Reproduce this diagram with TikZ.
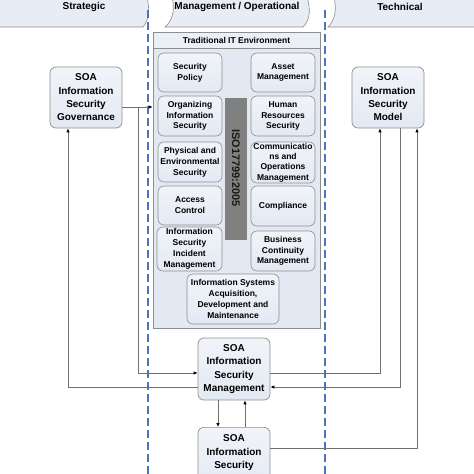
\documentclass[tikz,border=0pt]{standalone}
\usepackage{fontspec}
\setmainfont{Liberation Sans}
\usetikzlibrary{arrows.meta}
\definecolor{boxfill}{HTML}{E3E9F3}
\definecolor{boxtop}{HTML}{F1F4F9}
\definecolor{boxline}{HTML}{8E8E8E}
\definecolor{conn}{HTML}{707070}
\definecolor{lane}{HTML}{4F72BC}
\definecolor{isogrey}{HTML}{808080}
\tikzset{
  outbox/.style={draw=boxline, line width=0.7pt, rounded corners=6pt, top color=boxtop, bottom color=boxfill,
    minimum width=72pt, minimum height=61pt, inner sep=0pt, align=center,
    font=\fontsize{10}{13.3}\selectfont\bfseries},
  inbox/.style={draw=boxline, line width=0.6pt, rounded corners=6pt, top color=boxtop, bottom color=boxfill,
    minimum width=64pt, minimum height=40pt, inner sep=0pt, align=center,
    font=\fontsize{8.5}{10.8}\selectfont\bfseries},
  banner/.style={draw=boxline, line width=0.6pt, fill=boxfill!85!white},
  bannertext/.style={font=\fontsize{10}{12}\selectfont\bfseries, inner sep=0pt},
  lanesep/.style={draw=lane, line width=1.4pt, dash pattern=on 8pt off 4pt},
  arr/.style={draw=conn, line width=0.8pt, -{Latex[length=4pt,width=3.5pt,color=black]}},
}
\begin{document}
\begin{tikzpicture}[x=1pt,y=-1pt]
\useasboundingbox (0,0) rectangle (474,474);
\clip (0,0) rectangle (474,474);
\fill[white] (0,0) rectangle (474,474);

% banners
\path[banner] (-5,-3) .. controls (-2,10) and (-4,20) .. (-10,27) -- (143,27)
  .. controls (149,20) and (150,10) .. (147,-3) -- cycle;
\path[banner] (172,-3) .. controls (175,10) and (173,20) .. (165,27) -- (303,27)
  .. controls (310,20) and (311,10) .. (307,-3) -- cycle;
\path[banner] (334,-3) .. controls (337,10) and (335,20) .. (328,27) -- (480,27) -- (480,-3) -- cycle;
\node[bannertext] (bs) at (84,7) {Strategic};
\node[bannertext] (bm) at (237,7) {Management / Operational};
\node[bannertext] (bt) at (400,7) {Technical};

% lane separators
\draw[lanesep] (148,10) -- (148,480);
\draw[lanesep] (325,10) -- (325,480);

% traditional IT environment
\node[draw=boxline, line width=0.6pt, fill=boxfill, minimum width=167pt, minimum height=296pt, inner sep=0pt]
  (it) at (236.5,180) {};
\draw[boxline, line width=0.6pt, fill=boxtop!60!boxfill] (153,32) rectangle (320,48);
\node[font=\fontsize{8.5}{10}\selectfont\bfseries, inner sep=0pt] (itt) at (236.5,40.5) {Traditional IT Environment};

\node[inbox, minimum height=39pt] (sp)  at (190,72.5) {Security\\Policy};
\node[inbox, minimum height=39pt] (am)  at (283,72.5) {Asset\\Management};
\node[inbox] (ois) at (190,116) {Organizing\\Information\\Security};
\node[inbox] (hrs) at (283,116) {Human\\Resources\\Security};
\node[inbox] (pes) at (190,162) {Physical and\\Environmental\\Security};
\node[inbox, minimum height=41pt, font=\fontsize{8.5}{10.3}\selectfont\bfseries] (com) at (283,162.5) {Communicatio\\ns and\\Operations\\Management};
\node[inbox, minimum height=39pt] (ac)  at (190,205.5) {Access\\Control};
\node[inbox] (cmp) at (283,206) {Compliance};
\node[inbox, minimum width=65pt, minimum height=44pt] (isim) at (189.5,249) {Information\\Security\\Incident\\Management};
\node[inbox] (bcm) at (283,251) {Business\\Continuity\\Management};
\node[inbox, minimum width=92pt, minimum height=50pt] (isad) at (233,299) {Information Systems\\Acquisition,\\Development and\\Maintenance};

\node[fill=isogrey, minimum width=22pt, minimum height=142pt, inner sep=0pt] (iso) at (236,169) {};
\node[rotate=-90, font=\fontsize{11}{12}\selectfont\bfseries, text=black!90, inner sep=0pt] (isot) at (236,168) {ISO17799:2005};

% outer boxes
\node[outbox] (gov) at (86,97.5) {SOA\\Information\\Security\\Governance};
\node[outbox] (model) at (388,97.5) {SOA\\Information\\Security\\Model};
\node[outbox, minimum height=62pt] (mgmt) at (234,369) {SOA\\Information\\Security\\Management};
\node[outbox, minimum height=62pt, anchor=north] (enf) at (234,427) {SOA\\Information\\Security\\\mbox{}};

% connector way points
\coordinate (j1) at (138,107);
\coordinate (a1) at (138,373);
\coordinate (a2) at (68,387);
\coordinate (b1) at (380,373);
\coordinate (b2) at (400,387);
\coordinate (b3) at (417,448);
\coordinate (c1) at (218,0);
\coordinate (c2) at (245,0);

% connectors
\draw[arr] (gov.east |- j1) -- (it.west |- j1);
\draw[arr] (j1) -- (a1) -- (mgmt.west |- a1);
\draw[arr] (mgmt.west |- a2) -- (a2) -- (gov.south -| a2);
\draw[arr] (mgmt.east |- b1) -- (b1) -- (model.south -| b1);
\draw[arr] (model.south -| b2) -- (b2) -- (mgmt.east |- b2);
\draw[arr] (enf.east |- b3) -- (b3) -- (model.south -| b3);
\draw[arr] (mgmt.south -| c1) -- (enf.north -| c1);
\draw[arr] (enf.north -| c2) -- (mgmt.south -| c2);
\end{tikzpicture}
\end{document}
